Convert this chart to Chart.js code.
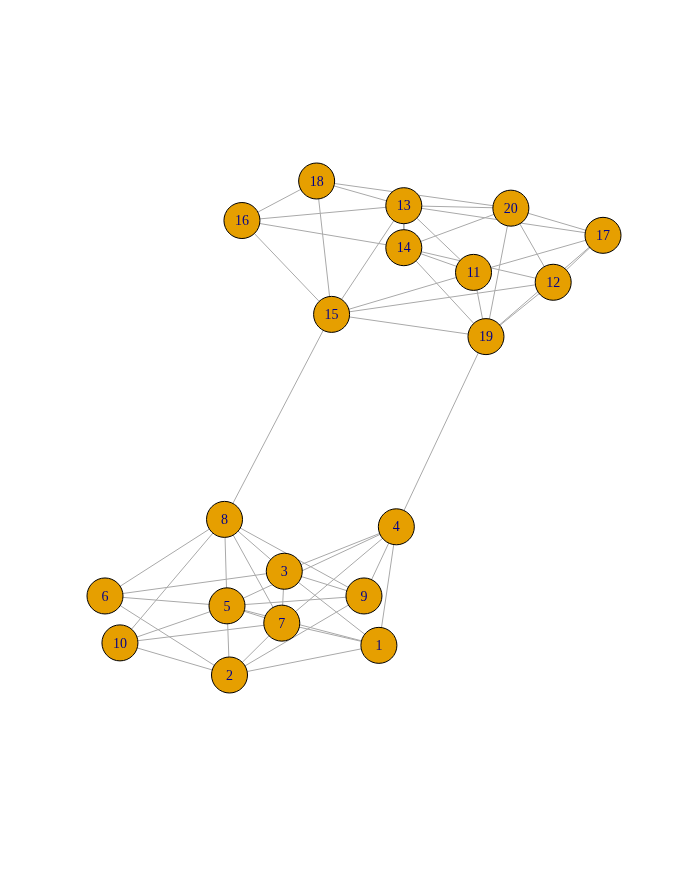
<!DOCTYPE html>
<html>
<head>
<meta charset="utf-8">
<script src="https://cdn.jsdelivr.net/npm/chart.js@4/dist/chart.umd.min.js"></script>
<style>
  html, body { margin: 0; padding: 0; background: #ffffff; }
  #wrap { width: 676px; height: 872px; position: relative; }
</style>
</head>
<body>
<div id="wrap"><canvas id="netChart"></canvas></div>
<script>
// node labels and layout coordinates (rescaled to -1..1)
const nodeLabels = ['1','2','3','4','5','6','7','8','9','10','11','12','13','14','15','16','17','18','19','20'];
const nodeX = [0.10, -0.50, -0.28, 0.17, -0.51, -1.00, -0.29, -0.52, 0.04, -0.94,
               0.48, 0.80, 0.20, 0.20, -0.09, -0.45, 1.00, -0.15, 0.53, 0.63];
const nodeY = [-0.88, -1.00, -0.58, -0.40, -0.72, -0.68, -0.79, -0.37, -0.68, -0.87,
               0.63, 0.59, 0.90, 0.73, 0.46, 0.84, 0.78, 1.00, 0.37, 0.89];

// edge list (from, to) by node label
const edgeFrom = [18, 18, 18, 18, 16, 16, 16, 13, 13, 13, 13, 13, 20, 20, 20, 20, 17, 17, 17,
                  14, 14, 14, 11, 11, 12, 12, 15, 15, 19,
                  8, 8, 8, 8, 8, 8, 4, 4, 4, 4, 4, 3, 3, 3, 3,
                  6, 6, 5, 5, 5, 5, 5, 7, 10, 10, 7, 9, 2];
const edgeTo   = [16, 13, 20, 15, 13, 14, 15, 20, 17, 14, 11, 15, 14, 17, 12, 19, 11, 19, 12,
                  11, 12, 19, 15, 19, 15, 19, 19, 8, 4,
                  6, 10, 5, 7, 3, 9, 3, 5, 7, 9, 1, 6, 7, 9, 1,
                  5, 2, 9, 10, 2, 7, 1, 1, 7, 2, 2, 2, 1];

const nodeFill = '#E69F00';
const edgeColor = '#A9A9A9';

function buildDatasets() {
    const sets = [];
    for (let i = 0; i < edgeFrom.length; i++) {
        const a = edgeFrom[i] - 1;
        const b = edgeTo[i] - 1;
        sets.push({
            type: 'line',
            data: [{ x: nodeX[a], y: nodeY[a] }, { x: nodeX[b], y: nodeY[b] }],
            borderColor: edgeColor,
            borderWidth: 1,
            pointRadius: 0,
            fill: false,
            clip: false,
            order: 2
        });
    }
    sets.push({
        type: 'scatter',
        data: nodeX.map((x, i) => ({ x: x, y: nodeY[i] })),
        backgroundColor: nodeFill,
        borderColor: '#000000',
        borderWidth: 1,
        pointRadius: 18,
        pointHoverRadius: 18,
        clip: false,
        order: 1
    });
    return sets;
}

// draws the node numbers on top of the circles
const nodeLabelPlugin = {
    id: 'nodeLabels',
    afterDatasetsDraw(chart) {
        const ctx = chart.ctx;
        const xs = chart.scales.x;
        const ys = chart.scales.y;
        ctx.save();
        ctx.font = '14px "Liberation Serif", "DejaVu Serif", serif';
        ctx.fillStyle = '#00008B';
        ctx.textAlign = 'center';
        ctx.textBaseline = 'middle';
        nodeLabels.forEach((lab, i) => {
            ctx.fillText(lab, xs.getPixelForValue(nodeX[i]), ys.getPixelForValue(nodeY[i]) + 1);
        });
        ctx.restore();
    }
};

new Chart(document.getElementById('netChart'), {
    type: 'scatter',
    data: { datasets: buildDatasets() },
    options: {
        responsive: true,
        maintainAspectRatio: false,
        animation: false,
        layout: {
            padding: { left: 105, right: 73, top: 181, bottom: 197 }
        },
        plugins: {
            legend: { display: false },
            tooltip: { enabled: false }
        },
        scales: {
            x: { type: 'linear', min: -1, max: 1, display: false },
            y: { type: 'linear', min: -1, max: 1, display: false }
        }
    },
    plugins: [nodeLabelPlugin]
});
</script>
</body>
</html>
